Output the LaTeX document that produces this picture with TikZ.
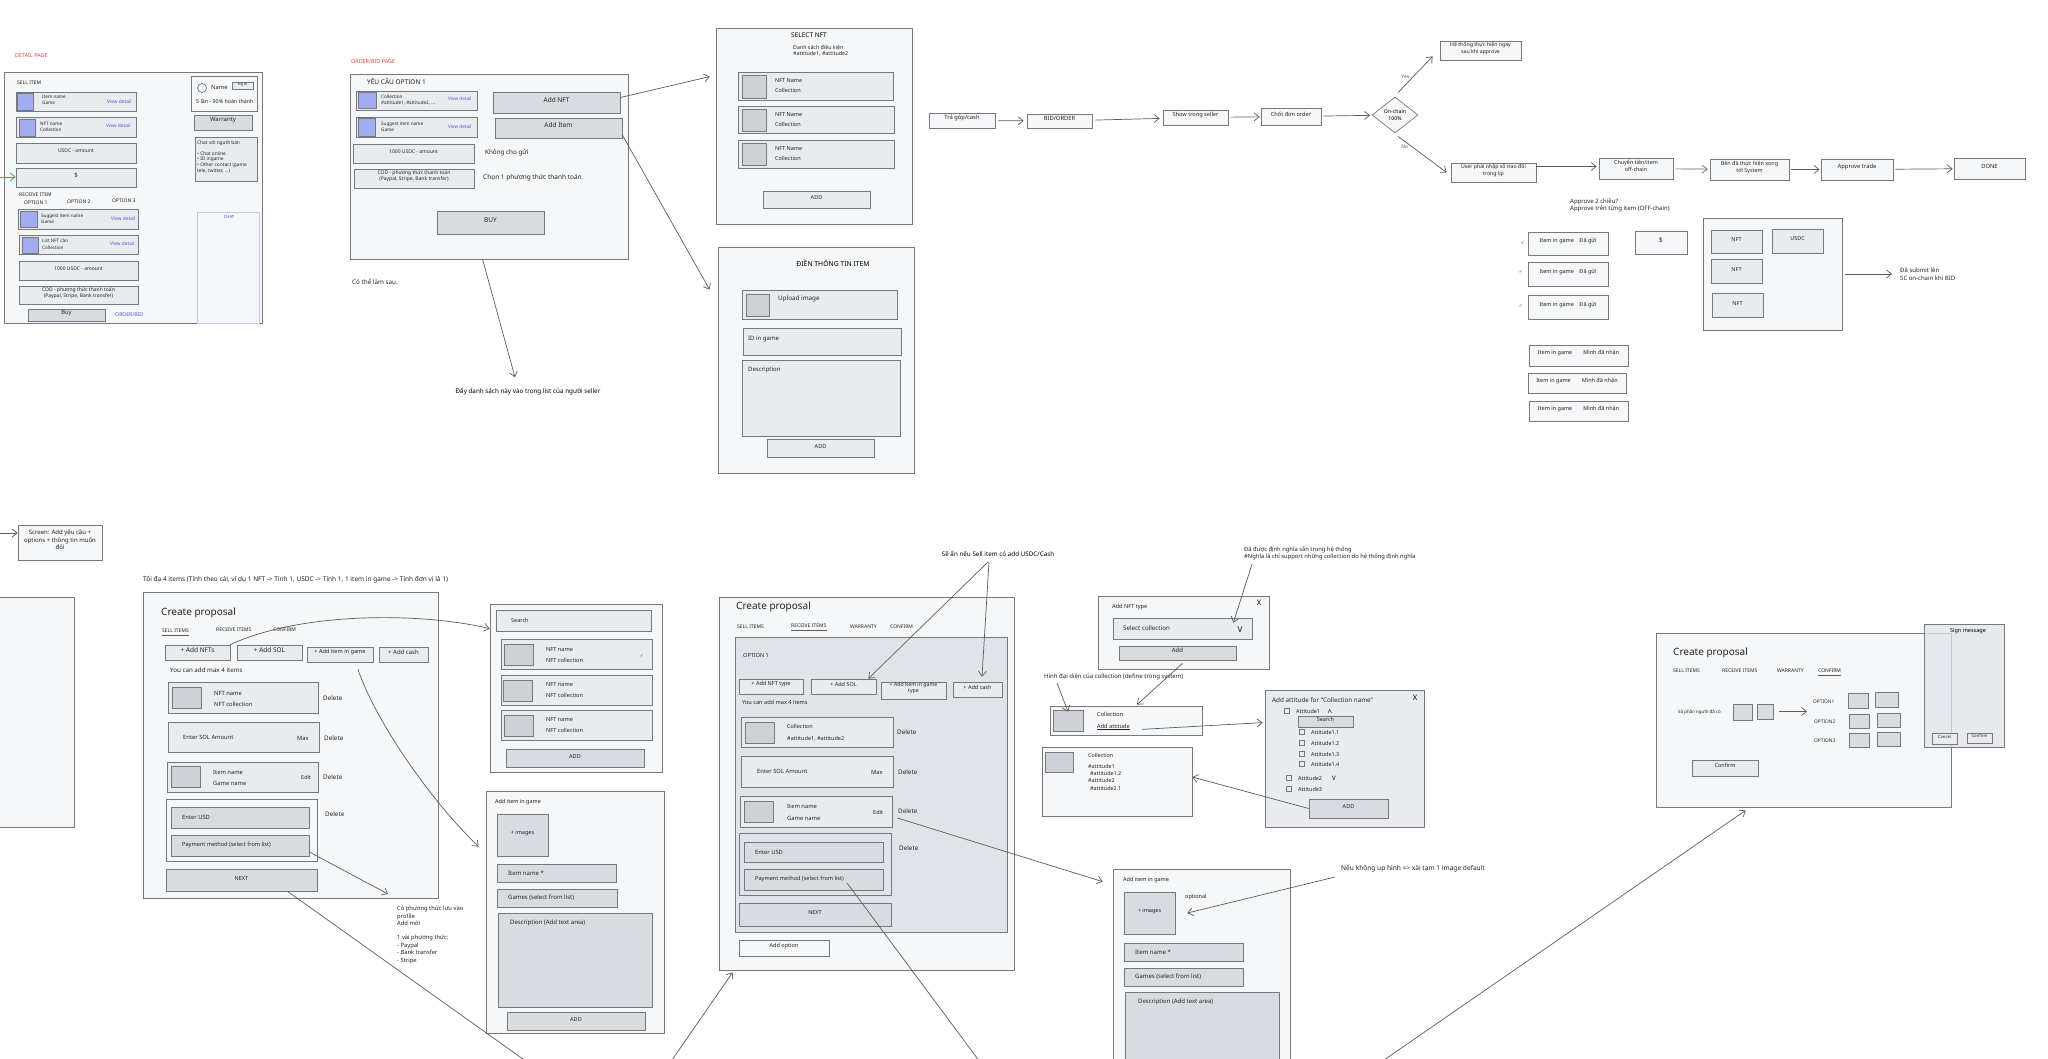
\documentclass[tikz,border=0pt]{standalone}
\usepackage{fontspec}
\setmainfont{Noto Sans}
\newfontfamily\simbolos{DejaVu Sans}
\usepackage{xcolor}
\usepackage{tikz}
\usetikzlibrary{shapes.geometric, positioning, fit, calc, arrows.meta}
\definecolor{bordegris}{RGB}{118,120,124}
\definecolor{fondomarco}{RGB}{246,247,248}
\definecolor{fondocaja}{RGB}{233,236,239}
\definecolor{fondomini}{RGB}{206,210,214}
\definecolor{fondopanel}{RGB}{224,228,232}
\definecolor{fondoboton}{RGB}{216,220,224}
\definecolor{azulmini}{RGB}{162,172,240}
\definecolor{azultexto}{RGB}{72,92,215}
\definecolor{rojotexto}{RGB}{226,64,64}
\definecolor{verdeflecha}{RGB}{64,166,86}
\definecolor{textooscuro}{RGB}{35,35,35}
\definecolor{flechagris}{RGB}{92,92,92}
\newcommand{\letra}[2]{\fontsize{#1}{#2}\selectfont}

\begin{document}
\begin{tikzpicture}[x=1pt, y=-1pt,
  marco/.style={draw=bordegris, fill=fondomarco, line width=0.8pt, inner sep=0pt},
  caja/.style={draw=bordegris, fill=fondocaja, line width=0.7pt, inner sep=0pt, align=center, font=\letra{5.5}{7}, text=textooscuro},
  boton/.style={caja, fill=fondoboton},
  mini/.style={draw=bordegris, fill=fondomini, line width=0.7pt, inner sep=0pt},
  miniazul/.style={draw=bordegris, fill=azulmini, line width=0.7pt, inner sep=0pt},
  casilla/.style={draw=bordegris, fill=fondocaja, line width=0.6pt, inner sep=0pt, minimum size=4.5pt},
  et/.style={font=\letra{6}{7.5}, inner sep=0pt, anchor=west, align=left, text=textooscuro},
  flecha/.style={-{Straight Barb[length=5pt, width=8pt]}, line width=0.7pt, flechagris},
  linea/.style={line width=0.7pt, flechagris}
]
\useasboundingbox (0,0) rectangle (2048,1058);
\clip (0,0) rectangle (2048,1058);
\fill[white] (0,0) rectangle (2048,1058);

% Página de detalle
\node[et, font=\letra{5.4}{6}, text=rojotexto] (dp-t) at (15,56) {DETAIL PAGE};
\node[marco, fit={(4,72) (262,323)}] (dp) {};
\node[et, font=\letra{5}{6}] (dp-sell) at (17,83) {SELL ITEM};
\node[caja, fit={(16,92) (136,111)}] (dp-s1) {};
\node[miniazul, fit={(17,93) (33,110)}] (dp-s1m) {};
\node[et, font=\letra{4.6}{6.3}] (dp-s1t) at (42,100) {Item name\\Game};
\node[et, font=\letra{4.8}{6}, text=azultexto] (dp-s1v) at (107,102) {View detail};
\node[caja, fit={(16,117) (136,137)}] (dp-s2) {};
\node[miniazul, fit={(19,119) (35,136)}] (dp-s2m) {};
\node[et, font=\letra{4.6}{6.3}] (dp-s2t) at (40,127) {NFT name\\Collection};
\node[et, font=\letra{4.8}{6}, text=azultexto] (dp-s2v) at (106,126) {View detail};
\node[caja, font=\letra{5}{6}, fit={(16,143) (136,163)}] (dp-usdc) {USDC - amount};
\node[caja, font=\letra{6}{7}, fit={(16,168) (136,187)}] (dp-cash) {\$};
\coordinate (dp-in) at (0,177);
\node[et, font=\letra{5}{6}] (dp-rec) at (19,195) {RECEIVE ITEM};
\node[et, font=\letra{5}{6}] (dp-o1) at (24,203) {OPTION 1};
\node[et, font=\letra{5}{6}] (dp-o2) at (67,202) {OPTION 2};
\node[et, font=\letra{5}{6}] (dp-o3) at (112,201) {OPTION 3};
\node[caja, fit={(18,209) (138,229)}] (dp-r1) {};
\node[miniazul, fit={(20,211) (37,227)}] (dp-r1m) {};
\node[et, font=\letra{4.6}{6.3}] (dp-r1t) at (41,219) {Suggest item name\\Game};
\node[et, font=\letra{4.8}{6}, text=azultexto] (dp-r1v) at (111,219) {View detail};
\node[caja, fit={(19,235) (138,254)}] (dp-r2) {};
\node[miniazul, fit={(22,237) (38,253)}] (dp-r2m) {};
\node[et, font=\letra{4.6}{6.3}] (dp-r2t) at (42,244) {List NFT cần\\Collection};
\node[et, font=\letra{4.8}{6}, text=azultexto] (dp-r2v) at (110,244) {View detail};
\node[caja, font=\letra{5}{6}, fit={(19,261) (138,280)}] (dp-r3) {1000 USDC - amount};
\node[caja, font=\letra{5}{6}, fit={(19,286) (138,304)}] (dp-r4) {COD - phương thức thanh toán\\(Paypal, Stripe, Bank transfer)};
\node[boton, font=\letra{5.8}{7}, fit={(28,309) (105,321)}] (dp-buy) {Buy};
\node[et, font=\letra{5.2}{6}, text=azultexto] (dp-ob) at (115,315) {ORDER/BID};
\node[marco, fit={(191,76) (257,111)}] (dp-user) {};
\node[draw=bordegris, circle, minimum size=9pt, inner sep=0pt, line width=0.7pt] (dp-av) at (202,88) {};
\node[et, font=\letra{5.8}{7}] (dp-name) at (211,87) {Name};
\node[caja, font=\letra{3.6}{4}, fit={(232,82) (253,89)}] (dp-log) {log tk};
\node[et, font=\letra{5.3}{7}] (dp-rate) at (196,101) {5 lần - 90\% hoàn thành};
\node[boton, font=\letra{6}{7}, fit={(194,115) (252,130)}] (dp-war) {Warranty};
\node[caja, fit={(195,137) (257,181)}] (dp-chat) {};
\node[et, font=\letra{4.8}{5.8}, anchor=north west] (dp-chatt) at (197,140.5) {Chat với người bán\\[5pt]• Chat online\\• ID ingame\\• Other contact (game\\tele, twitter, ...)};
\node[draw=azultexto!35, fill=fondomarco, line width=0.7pt, inner sep=0pt, fit={(197,212) (259,323)}] (dp-box) {};
\node[font=\letra{4.2}{5}, text=azultexto, inner sep=0pt] (dp-boxt) at (229,217) {CHAT};

% Página order/bid
\node[et, font=\letra{5.4}{6}, text=rojotexto] (ob-t) at (351,62) {ORDER/BID PAGE};
\node[marco, fit={(350,74) (628,259)}] (ob) {};
\node[et, font=\letra{6.5}{7}] (ob-h) at (367,81) {YÊU CẦU OPTION 1};
\node[caja, fit={(356,91) (477,110)}] (ob-c1) {};
\node[miniazul, fit={(358,92) (376,108)}] (ob-c1m) {};
\node[et, font=\letra{4.6}{6.5}] (ob-c1t) at (381,100) {Collection\\\#attitude1, \#attitude2, ...};
\node[et, font=\letra{4.6}{6}, text=azultexto] (ob-c1v) at (448,99) {View detail};
\node[caja, fit={(356,117) (477,137)}] (ob-c2) {};
\node[miniazul, fit={(358,118) (375,136)}] (ob-c2m) {};
\node[et, font=\letra{4.6}{6.5}] (ob-c2t) at (381,127) {Suggest item name\\Game};
\node[et, font=\letra{4.6}{6}, text=azultexto] (ob-c2v) at (448,127) {View detail};
\node[caja, font=\letra{5}{6}, fit={(353,144) (474,163)}] (ob-usdc) {1000 USDC - amount};
\node[caja, font=\letra{5}{6}, fit={(354,169) (474,188)}] (ob-cod) {COD - phương thức thanh toán\\(Paypal, Stripe, Bank transfer)};
\node[boton, font=\letra{6.5}{7}, fit={(493,92) (620,113)}] (ob-nft) {Add NFT};
\node[boton, font=\letra{6.5}{7}, fit={(495,118) (622,138)}] (ob-item) {Add Item};
\node[et, font=\letra{6.3}{7}] (ob-n1) at (485,153) {Không cho gửi};
\node[et, font=\letra{6.5}{7}] (ob-n2) at (483,178) {Chọn 1 phương thức thanh toán.};
\node[boton, font=\letra{6.5}{7}, fit={(437,211) (544,234)}] (ob-buy) {BUY};
\node[et, font=\letra{6.3}{7}] (ob-later) at (352,282) {Có thể làm sau.};
\node[font=\letra{6.3}{7}, inner sep=0pt] (ob-list) at (528,392) {Đẩy danh sách này vào trong list của người seller};

% Select NFT y datos del item
\node[marco, fit={(716,28) (912,224)}] (sel) {};
\node[font=\letra{6.5}{7}, inner sep=0pt] (sel-t) at (809,35) {SELECT NFT};
\node[et, font=\letra{5.3}{6}] (sel-c) at (793,51) {Danh sách điều kiện\\\#attitude1, \#attitude2};
\node[caja, fit={(738,72) (893,100)}] (sel-1) {};
\node[mini, fit={(742,75) (766,98)}] (sel-1m) {};
\node[et, font=\letra{5.5}{10}] (sel-1t) at (775,86) {NFT Name\\Collection};
\node[caja, fit={(738,106) (894,133)}] (sel-2) {};
\node[mini, fit={(742,109) (766,131)}] (sel-2m) {};
\node[et, font=\letra{5.5}{10}] (sel-2t) at (775,120) {NFT Name\\Collection};
\node[caja, fit={(738,140) (894,168)}] (sel-3) {};
\node[mini, fit={(742,143) (766,165)}] (sel-3m) {};
\node[et, font=\letra{5.5}{10}] (sel-3t) at (775,154) {NFT Name\\Collection};
\node[caja, fit={(763,191) (870,208)}] (sel-add) {ADD};
\node[marco, fit={(718,247) (914,473)}] (info) {};
\node[font=\letra{6.8}{7}, inner sep=0pt] (info-t) at (833,263) {ĐIỀN THÔNG TIN ITEM};
\node[caja, fit={(742,290) (897,319)}] (info-up) {};
\node[mini, fit={(746,294) (769,316)}] (info-upm) {};
\node[et, font=\letra{6.3}{7}] (info-upt) at (778,299) {Upload image};
\node[caja, fit={(743,328) (901,355)}] (info-id) {};
\node[et] (info-idt) at (748,339) {ID in game};
\node[caja, fit={(742,360) (900,436)}] (info-des) {};
\node[et] (info-dest) at (748,370) {Description};
\node[caja, fit={(767,439) (874,457)}] (info-add) {ADD};

% Flujo del pedido
\node[caja, fill=fondomarco, font=\letra{5.8}{7}, fit={(929,113) (995,128)}] (f-cash) {Trả góp/cash};
\node[caja, fill=fondomarco, font=\letra{5.8}{7}, fit={(1027,114) (1092,128)}] (f-bid) {BID/ORDER};
\node[caja, fill=fondomarco, font=\letra{5.6}{7}, fit={(1163,110) (1228,125)}] (f-show) {Show trong seller};
\node[caja, fill=fondomarco, font=\letra{5.6}{7}, fit={(1261,108) (1321,125)}] (f-chot) {Chốt đơn order};
\node[draw=bordegris, fill=fondomarco, line width=0.7pt, diamond, minimum width=46pt, minimum height=36pt, inner sep=0pt, align=center, font=\letra{5.2}{6.5}] (f-chain) at (1395,115) {On-chain\\100\%};
\node[caja, fill=fondomarco, font=\letra{5.2}{7}, align=left, fit={(1440,41) (1521,60)}] (f-yes) {Hệ thống thực hiện ngay\\sau khi approve};
\node[caja, fill=fondomarco, font=\letra{5.2}{7}, align=left, fit={(1451,163) (1536,182)}] (f-user) {User phải nhập số trao đổi\\trong lịp};
\node[caja, fill=fondomarco, font=\letra{5.4}{7}, align=left, fit={(1599,158) (1673,179)}] (f-off) {Chuyển tiền/item\\off-chain};
\node[caja, fill=fondomarco, font=\letra{5.4}{7}, align=left, fit={(1710,159) (1789,180)}] (f-sys) {Bên đã thực hiện xong\\tới System};
\node[caja, fill=fondomarco, font=\letra{5.8}{7}, fit={(1821,159) (1893,180)}] (f-appr) {Approve trade};
\node[caja, fill=fondomarco, font=\letra{5.8}{7}, fit={(1954,158) (2025,179)}] (f-done) {DONE};
\node[et, font=\letra{6}{7.5}] (ap-t) at (1570,205.5) {Approve 2 chiều?\\Approve trên từng item (OFF-chain)};
\node[font=\simbolos\letra{5}{6}, text=flechagris, inner sep=0pt] (ap-v1) at (1523,243) {✓};
\node[font=\simbolos\letra{5}{6}, text=flechagris, inner sep=0pt] (ap-v2) at (1521,272) {✓};
\node[font=\simbolos\letra{5}{6}, text=flechagris, inner sep=0pt] (ap-v3) at (1521,306) {✓};
\node[caja, fill=fondomarco, fit={(1528,232) (1608,255)}] (ap-i1) {Item in game\quad Đã gửi};
\node[caja, fill=fondomarco, fit={(1528,262) (1608,286)}] (ap-i2) {Item in game\quad Đã gửi};
\node[caja, fill=fondomarco, fit={(1528,295) (1608,319)}] (ap-i3) {Item in game\quad Đã gửi};
\node[caja, fill=fondomarco, font=\letra{6.5}{7}, fit={(1635,231) (1687,254)}] (ap-usd) {\$};
\node[marco, fit={(1703,218) (1842,330)}] (ap-sc) {};
\node[caja, fit={(1711,230) (1762,253)}] (ap-n1) {NFT};
\node[caja, fit={(1772,229) (1823,253)}] (ap-usdc) {USDC};
\node[caja, fit={(1711,259) (1762,283)}] (ap-n2) {NFT};
\node[caja, fit={(1712,293) (1763,317)}] (ap-n3) {NFT};
\node[et, font=\letra{6}{8}] (ap-sub) at (1900,274) {Đã submit lên\\SC on-chain khi BID};
\node[caja, fill=fondomarco, fit={(1529,345) (1628,366)}] (ap-r1) {Item in game\qquad Mình đã nhận};
\node[caja, fill=fondomarco, fit={(1528,373) (1626,393)}] (ap-r2) {Item in game\qquad Mình đã nhận};
\node[caja, fill=fondomarco, fit={(1529,401) (1628,421)}] (ap-r3) {Item in game\qquad Mình đã nhận};

% Create proposal: sell items
\coordinate (sc-in) at (0,533);
\node[caja, fill=fondomarco, font=\letra{6}{7.5}, fit={(18,525) (102,560)}] (sc) {Screen: Add yêu cầu +\\options + thông tin muốn\\đổi};
\node[marco, fit={(-10,597) (74,827)}] (izq) {};
\node[et, font=\letra{6.5}{7}] (p1-h) at (143,580) {Tối đa 4 items (Tính theo cái, ví dụ 1 NFT -> Tính 1, USDC -> Tính 1, 1 item in game -> Tính đơn vị là 1)};
\node[marco, fit={(143,592) (438,898)}] (p1) {};
\node[et, font=\letra{10}{11}] (p1-t) at (161,613) {Create proposal};
\node[et, font=\letra{5}{6}] (p1-tab1) at (162,631) {SELL ITEMS};
\node[et, font=\letra{5}{6}] (p1-tab2) at (216,630) {RECEIVE ITEMS};
\node[et, font=\letra{5}{6}] (p1-tab3) at (273,630) {CONFIRM};
\node[caja, font=\letra{6.5}{7}, fit={(165,645) (230,660)}] (p1-nft) {+ Add NFTs};
\node[caja, font=\letra{6.5}{7}, fit={(237,645) (302,660)}] (p1-sol) {+ Add SOL};
\node[caja, font=\letra{5.6}{7}, fit={(307,647) (373,662)}] (p1-game) {+ Add item in game};
\node[caja, font=\letra{6}{7}, fit={(379,647) (428,662)}] (p1-cash) {+ Add cash};
\node[et, font=\letra{6.2}{7}] (p1-max) at (170,670) {You can add max 4 items};
\node[caja, fit={(168,682) (318,713)}] (p1-r1) {};
\node[mini, fit={(172,687) (201,708)}] (p1-r1m) {};
\node[et, font=\letra{5.8}{11}] (p1-r1t) at (214,698.5) {NFT name\\NFT collection};
\node[et, font=\letra{6.3}{7}] (p1-r1d) at (323,698) {Delete};
\node[caja, fit={(168,722) (319,752)}] (p1-r2) {};
\node[et, font=\letra{5.8}{7}] (p1-r2t) at (183,737) {Enter SOL Amount};
\node[et, font=\letra{5.8}{7}] (p1-r2x) at (297,738) {Max};
\node[et, font=\letra{6.3}{7}] (p1-r2d) at (324,738) {Delete};
\node[caja, fit={(167,762) (318,792)}] (p1-r3) {};
\node[mini, fit={(171,766) (200,787)}] (p1-r3m) {};
\node[et, font=\letra{5.8}{11}] (p1-r3t) at (213,777.5) {Item name\\Game name};
\node[et, font=\letra{5.5}{7}] (p1-r3e) at (301,777) {Edit};
\node[et, font=\letra{6.3}{7}] (p1-r3d) at (323,777) {Delete};
\node[caja, fill=fondomarco, fit={(166,799) (317,861)}] (p1-r4) {};
\node[boton, fit={(171,807) (309,828)}] (p1-usd) {};
\node[et, font=\letra{5.8}{7}] (p1-usdt) at (182,817) {Enter USD};
\node[boton, fit={(171,835) (309,856)}] (p1-pay) {};
\node[et, font=\letra{5.6}{7}] (p1-payt) at (182,845) {Payment method (select from list)};
\node[et, font=\letra{6.3}{7}] (p1-r4d) at (325,814) {Delete};
\node[boton, fit={(166,869) (317,891)}] (p1-next) {NEXT};
\node[et, font=\letra{5.8}{7.4}, anchor=north west] (p1-nota) at (397,906) {Có phương thức lưu vào\\profile\\Add mới\\[7pt]1 vài phương thức:\\- Paypal\\- Bank transfer\\- Stripe};
\coordinate (fuera1) at (530,1064);

% Ventanas: lista NFT y item in game
\node[marco, fit={(490,604) (662,772)}] (ln) {};
\node[caja, fit={(496,610) (651,631)}] (ln-s) {};
\node[et, font=\letra{5.5}{7}] (ln-st) at (511,620) {Search};
\node[caja, fit={(501,639) (652,669)}] (ln-1) {};
\node[mini, fit={(504,644) (533,665)}] (ln-1m) {};
\node[et, font=\letra{5.6}{11}] (ln-1t) at (546,655.5) {NFT name\\NFT collection};
\node[font=\simbolos\letra{5}{6}, text=flechagris, inner sep=0pt] (ln-ok) at (642,656) {✓};
\node[caja, fit={(501,675) (652,705)}] (ln-2) {};
\node[mini, fit={(503,680) (532,701)}] (ln-2m) {};
\node[et, font=\letra{5.6}{11}] (ln-2t) at (546,690.5) {NFT name\\NFT collection};
\node[caja, fit={(501,710) (652,740)}] (ln-3) {};
\node[mini, fit={(504,715) (533,736)}] (ln-3m) {};
\node[et, font=\letra{5.6}{11}] (ln-3t) at (546,725.5) {NFT name\\NFT collection};
\node[boton, fit={(506,749) (644,767)}] (ln-add) {ADD};
\node[marco, fit={(486,791) (664,1033)}] (ai) {};
\node[et, font=\letra{5.5}{7}] (ai-t) at (495,802) {Add item in game};
\node[boton, fit={(497,814) (548,856)}] (ai-img) {+ images};
\node[boton, fit={(497,864) (616,882)}] (ai-name) {};
\node[et] (ai-namet) at (508,873) {Item name *};
\node[boton, fit={(497,889) (617,907)}] (ai-game) {};
\node[et] (ai-gamet) at (508,898) {Games (select from list)};
\node[boton, fit={(498,913) (652,1007)}] (ai-des) {};
\node[et] (ai-dest) at (510,923) {Description (Add text area)};
\node[boton, fit={(507,1012) (645,1030)}] (ai-add) {ADD};

% Create proposal: receive items
\node[font=\letra{6.3}{7}, inner sep=0pt] (p2-nota) at (998,554) {Sẽ ẩn nếu Sell item có add USDC/Cash};
\node[marco, fit={(719,597) (1014,970)}] (p2) {};
\node[et, font=\letra{10}{11}] (p2-t) at (736,607) {Create proposal};
\node[et, font=\letra{5}{6}] (p2-tab1) at (737,627) {SELL ITEMS};
\node[et, font=\letra{5}{6}] (p2-tab2) at (791,626) {RECEIVE ITEMS};
\node[et, font=\letra{5}{6}] (p2-tab3) at (850,627) {WARRANTY};
\node[et, font=\letra{5}{6}] (p2-tab4) at (890,627) {CONFIRM};
\node[caja, fill=fondopanel, fit={(735,637) (1007,932)}] (p2-op) {};
\node[et, font=\letra{5.5}{7}] (p2-opt) at (743,656) {OPTION 1};
\node[caja, fit={(739,679) (803,694)}] (p2-nft) {+ Add NFT type};
\node[caja, fit={(811,679) (876,694)}] (p2-sol) {+ Add SOL};
\node[caja, font=\letra{5.2}{6}, fit={(881,682) (946,699)}] (p2-game) {+ Add item in game\\type};
\node[caja, fit={(953,682) (1002,697)}] (p2-cash) {+ Add cash};
\node[et, font=\letra{5.6}{7}] (p2-max) at (742,702) {You can add max 4 items};
\node[caja, fit={(741,717) (893,747)}] (p2-r1) {};
\node[mini, fit={(745,722) (774,743)}] (p2-r1m) {};
\node[et, font=\letra{5.5}{12}] (p2-r1t) at (787,733) {Collection\\\#attitude1, \#attitude2};
\node[et, font=\letra{6.3}{7}] (p2-r1d) at (897,732) {Delete};
\node[caja, fit={(741,756) (893,787)}] (p2-r2) {};
\node[et, font=\letra{5.8}{7}] (p2-r2t) at (757,771) {Enter SOL Amount};
\node[et, font=\letra{5.8}{7}] (p2-r2x) at (871,772) {Max};
\node[et, font=\letra{6.3}{7}] (p2-r2d) at (898,772) {Delete};
\node[caja, fit={(740,796) (892,827)}] (p2-r3) {};
\node[mini, fit={(744,801) (773,822)}] (p2-r3m) {};
\node[et, font=\letra{5.8}{12}] (p2-r3t) at (787,812) {Item name\\Game name};
\node[et, font=\letra{5.5}{7}] (p2-r3e) at (873,812) {Edit};
\node[et, font=\letra{6.3}{7}] (p2-r3d) at (898,811) {Delete};
\node[caja, fill=fondopanel, fit={(739,833) (891,895)}] (p2-r4) {};
\node[boton, fit={(744,842) (883,862)}] (p2-usd) {};
\node[et, font=\letra{5.8}{7}] (p2-usdt) at (755,852) {Enter USD};
\node[boton, fit={(744,869) (883,890)}] (p2-pay) {};
\node[et, font=\letra{5.6}{7}] (p2-payt) at (755,879) {Payment method (select from list)};
\node[et, font=\letra{6.3}{7}] (p2-r4d) at (899,848) {Delete};
\node[boton, fit={(739,903) (891,926)}] (p2-next) {NEXT};
\node[caja, fill=fondomarco, fit={(739,940) (829,956)}] (p2-addop) {Add option};
\coordinate (fuera2) at (672,1060);
\coordinate (fuera3) at (980,1062);

% Add NFT type y atributos
\node[et, font=\letra{5.8}{7.5}] (nt-nota) at (1244,553) {Đã được định nghĩa sẵn trong hệ thống\\\#Nghĩa là chỉ support những collection do hệ thống định nghĩa};
\node[marco, fit={(1098,596) (1269,669)}] (nt) {};
\node[font=\bfseries\letra{7.5}{8}, inner sep=0pt] (nt-x) at (1259,603) {X};
\node[et, font=\letra{5.6}{7}] (nt-t) at (1112,607) {Add NFT type};
\node[caja, fit={(1113,618) (1252,639)}] (nt-sel) {};
\node[et, font=\letra{6.2}{7}] (nt-selt) at (1123,628) {Select collection};
\node[font=\bfseries\letra{8}{8}, inner sep=0pt] (nt-v) at (1240,630) {V};
\node[boton, font=\letra{6}{7}, fit={(1119,646) (1236,660)}] (nt-add) {Add};
\node[et] (nt-img) at (1044,677) {Hình đại diện của collection (define trong system)};
\node[caja, fill=fondomarco, fit={(1050,706) (1202,735)}] (nt-c1) {};
\node[mini, fit={(1053,710) (1083,731)}] (nt-c1m) {};
\node[et, font=\letra{5.6}{12}] (nt-c1t) at (1097,721) {Collection\\\underline{Add attitude}};
\node[caja, fill=fondomarco, fit={(1042,747) (1192,816)}] (nt-c2) {};
\node[mini, fit={(1045,752) (1073,772)}] (nt-c2m) {};
\node[et, font=\letra{5.4}{7.3}, anchor=north west] (nt-c2t) at (1088,753.5) {Collection\\[3pt]\#attitude1\\\hspace*{2pt}\#attitude1.2\\\#attitude2\\\hspace*{2pt}\#attitude2.1};
\node[marco, fill=fondocaja, fit={(1265,690) (1424,827)}] (at) {};
\node[font=\bfseries\letra{7.5}{8}, inner sep=0pt] (at-x) at (1415,698) {X};
\node[et, font=\letra{6.3}{7}] (at-t) at (1272,700) {Add attitude for ``Collection name''};
\node[casilla] (at-c1) at (1287,711) {};
\node[et, font=\letra{5.5}{6}] (at-c1t) at (1296,711) {Attitude1};
\node[font=\bfseries\letra{8}{8}, inner sep=0pt] (at-c1a) at (1330,713) {\^{}};
\node[boton, font=\letra{5.4}{6}, fit={(1298,716) (1353,727)}] (at-s) {Search};
\node[casilla] (at-s1) at (1302,732) {};
\node[et, font=\letra{5.4}{6}] (at-s1t) at (1311,732) {Attitude1.1};
\node[casilla] (at-s2) at (1302,743) {};
\node[et, font=\letra{5.4}{6}] (at-s2t) at (1311,743) {Attitude1.2};
\node[casilla] (at-s3) at (1302,754) {};
\node[et, font=\letra{5.4}{6}] (at-s3t) at (1311,754) {Attitude1.3};
\node[casilla] (at-s4) at (1302,764) {};
\node[et, font=\letra{5.4}{6}] (at-s4t) at (1311,764) {Attitude1.4};
\node[casilla] (at-c2) at (1289,778) {};
\node[et, font=\letra{5.5}{6}] (at-c2t) at (1298,778) {Attitude2};
\node[font=\bfseries\letra{6}{6}, inner sep=0pt] (at-c2v) at (1334,778) {V};
\node[casilla] (at-c3) at (1289,789) {};
\node[et, font=\letra{5.5}{6}] (at-c3t) at (1298,789) {Attitude3};
\node[boton, fit={(1309,799) (1388,818)}] (at-add) {ADD};

% Add item in game (receive)
\node[marco, fit={(1113,869) (1290,1070)}] (ai2) {};
\node[et, font=\letra{5.5}{7}] (ai2-t) at (1123,880) {Add item in game};
\node[boton, fit={(1124,892) (1175,934)}] (ai2-img) {+ images};
\node[et, font=\letra{5.5}{7}] (ai2-opt) at (1185,897) {optional};
\node[boton, fit={(1124,943) (1243,961)}] (ai2-name) {};
\node[et] (ai2-namet) at (1135,952) {Item name *};
\node[boton, fit={(1124,968) (1243,986)}] (ai2-game) {};
\node[et] (ai2-gamet) at (1135,977) {Games (select from list)};
\node[boton, fit={(1125,992) (1279,1070)}] (ai2-des) {};
\node[et] (ai2-dest) at (1138,1002) {Description (Add text area)};
\node[et, font=\letra{6.6}{7}] (ai2-nota) at (1341,869) {Nếu không up hình => xài tạm 1 image default};

% Create proposal: confirm
\node[marco, fit={(1656,633) (1951,807)}] (cf) {};
\node[et, font=\letra{10}{11}] (cf-t) at (1673,653) {Create proposal};
\node[et, font=\letra{5}{6}] (cf-tab1) at (1673,671) {SELL ITEMS};
\node[et, font=\letra{5}{6}] (cf-tab2) at (1722,671) {RECEIVE ITEMS};
\node[et, font=\letra{5}{6}] (cf-tab3) at (1777,671) {WARRANTY};
\node[et, font=\letra{5}{6}] (cf-tab4) at (1818,671) {CONFIRM};
\node[et, font=\letra{4.4}{5}] (cf-q) at (1678,712) {Số phần người đã có};
\node[boton, fit={(1733,704) (1752,720)}] (cf-a) {};
\node[boton, fit={(1757,704) (1773,719)}] (cf-b) {};
\node[et, font=\letra{4.8}{5}] (cf-o1) at (1813,702) {OPTION1};
\node[et, font=\letra{4.8}{5}] (cf-o2) at (1814,722) {OPTION2};
\node[et, font=\letra{4.8}{5}] (cf-o3) at (1814,741) {OPTION3};
\node[boton, fit={(1848,693) (1868,708)}] (cf-a1) {};
\node[boton, fit={(1875,692) (1898,707)}] (cf-b1) {};
\node[boton, fit={(1849,714) (1869,728)}] (cf-a2) {};
\node[boton, fit={(1877,713) (1900,727)}] (cf-b2) {};
\node[boton, fit={(1849,733) (1869,747)}] (cf-a3) {};
\node[boton, fit={(1877,732) (1900,746)}] (cf-b3) {};
\node[caja, fit={(1692,760) (1758,776)}] (cf-ok) {Confirm};
\node[draw=bordegris, fill=fondopanel, fill opacity=0.75, line width=0.8pt, inner sep=0pt, fit={(1924,624) (2004,747)}] (sm) {};
\node[font=\letra{5.5}{6}, inner sep=0pt] (sm-t) at (1968,631) {Sign message};
\node[caja, font=\letra{4.2}{5}, fit={(1932,733) (1957,744)}] (sm-c) {Cancel};
\node[caja, font=\letra{4.2}{5}, fit={(1967,733) (1992,743)}] (sm-ok) {Confirm};
\coordinate (fuera4) at (1384,1060);

% Subrayados de pestañas
\draw[linea] ([yshift=-2.5pt]p1-tab1.south west) -- ([yshift=-2.5pt]p1-tab1.south east);
\draw[linea] ([yshift=-2.5pt]p2-tab2.south west) -- ([yshift=-2.5pt]p2-tab2.south east);
\draw[linea] ([yshift=-2.5pt]cf-tab4.south west) -- ([yshift=-2.5pt]cf-tab4.south east);

% Flechas
\draw[flecha, verdeflecha] (dp-in) -- (dp-in -| dp-cash.west);
\draw[flecha] ([xshift=133pt]ob.south west) -- ([xshift=-13pt, yshift=11pt]ob-list.north);
\draw[flecha] ([yshift=5pt]ob-nft.east) -- ([xshift=-6pt, yshift=-49pt]sel.north west);
\draw[flecha] ([yshift=-7pt]ob-item.east) -- ([xshift=-8pt, yshift=-43pt]info.north west);
\draw[flecha, shorten <=3pt, shorten >=3pt] (f-cash) -- (f-bid);
\draw[flecha, shorten <=3pt, shorten >=3pt] (f-bid) -- (f-show);
\draw[flecha, shorten <=2pt, shorten >=1pt] (f-show) -- (f-chot);
\draw[flecha, shorten <=2pt, shorten >=2pt] (f-chot) -- (f-chain);
\draw[flecha] ([shift={(3pt,4pt)}]f-chain.north) -- node[font=\letra{5}{6}, left=4pt, pos=0.45, inner sep=0pt] (f-si) {Yes} ([shift={(-7pt,4pt)}]f-yes.south west);
\draw[flecha] ([shift={(3pt,-3pt)}]f-chain.south) -- node[font=\letra{5}{6}, left=4pt, pos=0.3, inner sep=0pt] (f-no) {No} ([xshift=-4pt]f-user.west);
\draw[flecha, shorten >=2pt] ([yshift=6pt]f-user.east) -- ([yshift=2pt]f-off.west);
\draw[flecha, shorten <=2pt, shorten >=2pt] (f-off) -- (f-sys);
\draw[flecha, shorten <=2pt, shorten >=1pt] (f-sys) -- (f-appr);
\draw[flecha, shorten <=2pt, shorten >=1pt] (f-appr) -- (f-done);
\draw[flecha, shorten <=3pt, shorten >=8pt] (ap-sc) -- (ap-sub);
\draw[flecha] (sc-in) -- (sc-in -| sc.west);
\draw[flecha] (p1-nft.north east) .. controls (300,612) and (420,612) .. ([yshift=-25pt]ln.north west);
\draw[flecha] ([shift={(18pt,-7pt)}]p1-game.south) .. controls (375,720) and (430,800) .. ([shift={(-7pt,-56pt)}]ai.north west);
\draw[flecha] ([yshift=-6.5pt]p1-pay.east) -- ([shift={(-9pt,12pt)}]p1-nota.north west);
\draw[linea] ([xshift=46pt]p1-next.south) -- (fuera1);
\draw[flecha] ([xshift=-10pt, yshift=-5pt]p2-nota.south) -- ([xshift=-8pt]p2-sol.north east);
\draw[flecha] ([xshift=-9pt, yshift=-5pt]p2-nota.south) -- ([xshift=4.5pt, yshift=5pt]p2-cash.north);
\draw[flecha] (fuera2) -- ([shift={(14pt,-2pt)}]p2.south west);
\draw[linea] ([shift={(33.5pt,-3.5pt)}]p2-pay.center) -- (fuera3);
\draw[flecha] ([shift={(5pt,-6.5pt)}]p2-r3.east) -- ([shift={(-10pt,-13pt)}]ai2.north west);
\draw[flecha] ([xshift=8pt, yshift=-4pt]nt-nota.south west) -- ([shift={(-19pt,-5pt)}]nt-sel.north east);
\draw[flecha] ([shift={(5pt,-3pt)}]nt-add.south) -- ([shift={(11pt,1pt)}]nt-c1.north);
\draw[flecha] ([shift={(13pt,-6pt)}]nt-img.west) -- ([yshift=-2pt]nt-c1m.north);
\draw[flecha] ([shift={(12pt,1pt)}]nt-c1t.south east) -- ([shift={(-2pt,-33pt)}]at.north west);
\draw[flecha] (at-add.west) -- ([yshift=4.5pt]nt-c2.east);
\draw[flecha] ([shift={(-6pt,-8pt)}]ai2-nota.west) -- ([xshift=12pt]ai2-img.east);
\draw[flecha, shorten <=6pt, shorten >=6pt] (cf-b) -- (cf-b -| cf-o1.west);
\draw[flecha] (fuera4) -- ([shift={(90pt,-3pt)}]cf.south west);
\end{tikzpicture}
\end{document}
